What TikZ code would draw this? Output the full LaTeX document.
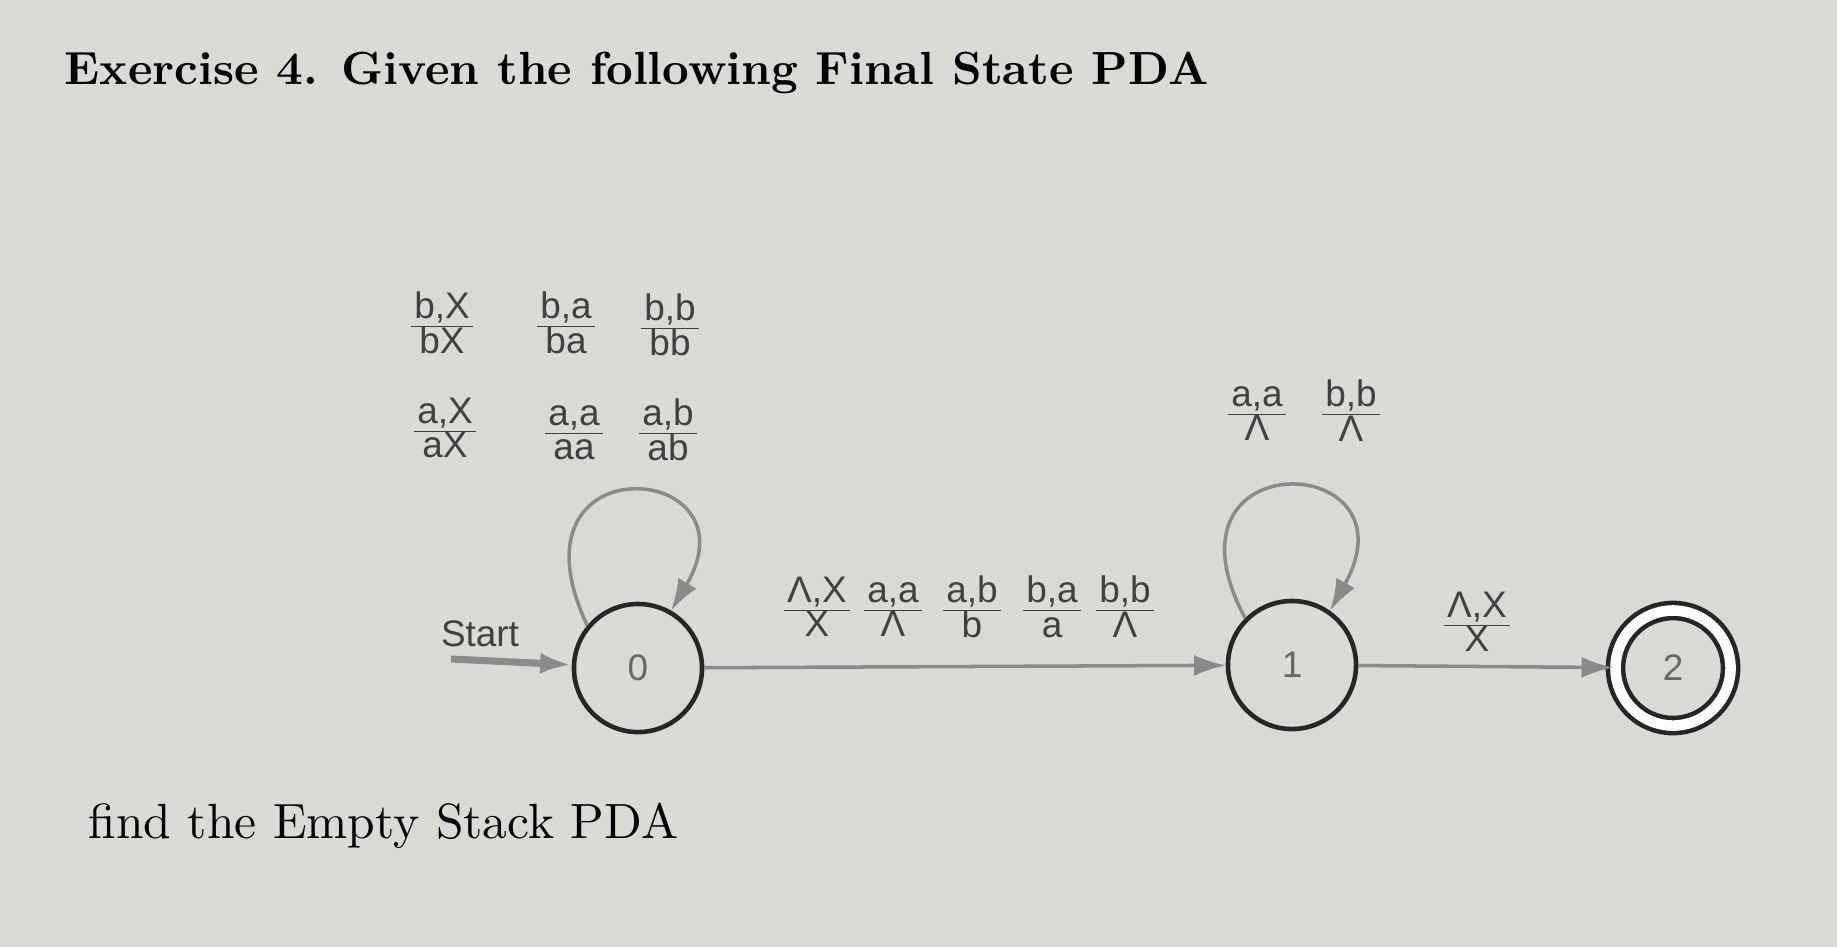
\documentclass[tikz,border=0pt]{standalone}
\usepackage{fontspec}
\newfontfamily\lbl{Liberation Sans}
\usetikzlibrary{arrows.meta}
\definecolor{bg}{HTML}{D9D9D6}
\definecolor{ln}{HTML}{8A8A8A}
\newcommand{\frl}[2]{{\renewcommand{\arraystretch}{0.95}\setlength{\tabcolsep}{1pt}\begin{tabular}{c}#1\\[-1pt]\hline #2\end{tabular}}}
\tikzset{
 st/.style={circle,draw=black!85,line width=1.3pt,minimum size=1.28cm,font=\lbl\fontsize{10.5}{12}\selectfont,text=black!60,inner sep=0pt},
 lab/.style={font=\lbl\fontsize{10.5}{11}\selectfont,text=black!75,inner sep=0pt},
 tr/.style={draw=ln,line width=1pt,-{Latex[length=9pt,width=6pt]}}
}
\begin{document}
\begin{tikzpicture}[x=0.01cm,y=-0.01cm]
\fill[bg] (0,0) rectangle (1837,947);
\useasboundingbox (0,0) rectangle (1837,947);
\node[anchor=west,inner sep=0pt] (title) at (64,73) {\resizebox{11.43cm}{!}{\bfseries Exercise 4. Given the following Final State PDA}};
\node[anchor=west,inner sep=0pt] (find) at (88,826) {\resizebox{5.89cm}{!}{find the Empty Stack PDA}};
\node[st] (q0) at (638,668) {0};
\node[st] (q1) at (1292,665) {1};
\node[st,double,double distance=3pt,minimum size=1.15cm] (q2) at (1673,668) {2};
\node[lab] (start) at (480,634) {Start};
\coordinate (s0) at (451,659);
\draw[tr,line width=2pt] (s0) -- (q0);
\draw[tr] (q0) -- (q1);
\draw[tr] (q1) -- (q2);
\draw[tr] (q0.140) .. controls (500,440) and (760,460) .. (q0.60);
\draw[tr] (q1.135) .. controls (1150,440) and (1420,450) .. (q1.55);
\node[lab] (l1) at (442,328) {\frl{b,X}{bX}};
\node[lab] (l2) at (566,328) {\frl{b,a}{ba}};
\node[lab] (l3) at (670,330) {\frl{b,b}{bb}};
\node[lab] (l4) at (445,433) {\frl{a,X}{aX}};
\node[lab] (l5) at (574,435) {\frl{a,a}{aa}};
\node[lab] (l6) at (668,435) {\frl{a,b}{ab}};
\node[lab] (e1) at (817,612) {\frl{Λ,X}{X}};
\node[lab] (e2) at (893,612) {\frl{a,a}{Λ}};
\node[lab] (e3) at (972,612) {\frl{a,b}{b}};
\node[lab] (e4) at (1052,612) {\frl{b,a}{a}};
\node[lab] (e5) at (1125,612) {\frl{b,b}{Λ}};
\node[lab] (m1) at (1257,416) {\frl{a,a}{Λ}};
\node[lab] (m2) at (1351,416) {\frl{b,b}{Λ}};
\node[lab] (f1) at (1477,627) {\frl{Λ,X}{X}};
\end{tikzpicture}
\end{document}
